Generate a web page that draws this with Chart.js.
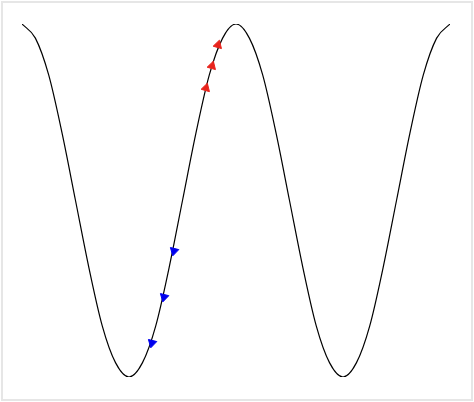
<!DOCTYPE html>
<html><head><meta charset="utf-8">
<script src="https://cdn.jsdelivr.net/npm/chart.js@4"></script>
<style>html,body{margin:0;padding:0;background:#fff}#w{width:474px;height:402px}</style>
</head><body><div id="w"><canvas id="c"></canvas></div>
<script>
const curveX = [0,22.5,45,67.5,90,112.5,135,157.5,180,202.5,225,247.5,270,292.5,315,337.5,360,382.5,405,427.5,450,472.5,495,517.5,540,562.5,585,607.5,630,652.5,675,697.5,720];
const curveY = [1,0.92,0.71,0.38,0,-0.38,-0.71,-0.92,-1,-0.92,-0.71,-0.38,0,0.38,0.71,0.92,1,0.92,0.71,0.38,0,-0.38,-0.71,-0.92,-1,-0.92,-0.71,-0.38,0,0.38,0.71,0.92,1];
const redX = [309.5,319.6,329.7], redY = [0.637,0.762,0.881];
const blueX = [218.7,238.9,255.7], blueY = [-0.807,-0.547,-0.286];
const pts=(xs,ys)=>xs.map((x,i)=>({x,y:ys[i]}));
const frame={id:'frame',afterDraw(ch){const c=ch.ctx;c.save();c.strokeStyle='#e6e6e6';c.lineWidth=2;c.strokeRect(2,2,470,398);c.restore();}};
new Chart(document.getElementById('c'),{
 type:'scatter',
 data:{datasets:[
  {data:pts(curveX,curveY),showLine:true,borderColor:'#000',borderWidth:1.2,pointRadius:0,cubicInterpolationMode:'monotone',order:2},
  {data:pts(redX,redY),pointStyle:'triangle',rotation:16,pointRadius:5,backgroundColor:'#e8241c',borderColor:'#e8241c',order:1},
  {data:pts(blueX,blueY),pointStyle:'triangle',rotation:194,pointRadius:5,backgroundColor:'#0000ee',borderColor:'#0000ee',order:1}
 ]},
 options:{responsive:true,maintainAspectRatio:false,animation:false,
  layout:{padding:{left:22,right:24,top:24,bottom:25}},
  plugins:{legend:{display:false},tooltip:{enabled:false}},
  scales:{x:{type:'linear',min:0,max:720,display:false},y:{min:-1,max:1,display:false}}},
 plugins:[frame]
});
</script></body></html>
